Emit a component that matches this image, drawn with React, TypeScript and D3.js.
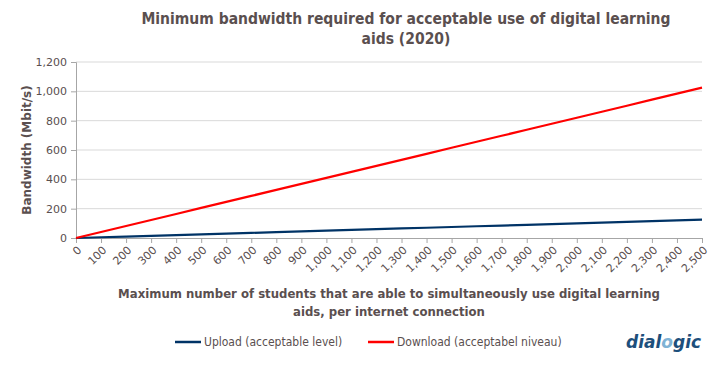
import React, {useEffect, useRef} from "react";
import * as d3 from "d3";

const students = [0, 100, 200, 300, 400, 500, 600, 700, 800, 900, 1000, 1100, 1200, 1300,
    1400, 1500, 1600, 1700, 1800, 1900, 2000, 2100, 2200, 2300, 2400, 2500];
const upload = [0, 5, 10, 15, 20, 25, 30, 35, 40, 45, 50, 55, 60, 65, 70, 75, 80, 85, 90, 95,
    100, 105, 110, 115, 120, 125];
const download = [0, 41, 82, 123, 164, 205, 246, 287, 328, 369, 410, 451, 492, 533, 574, 615,
    656, 697, 738, 779, 820, 861, 902, 943, 984, 1025];
const yTicks = [0, 200, 400, 600, 800, 1000, 1200];
const seriesNames = ["Upload (acceptable level)", "Download (acceptabel niveau)"];
const seriesColors = ["#003366", "#ff0000"];

const textColor = "#5a4f4f";
const font = "Verdana, 'DejaVu Sans', sans-serif";
const titleFont = "'DejaVu Sans Condensed', 'DejaVu Sans', sans-serif";

const App = () => {
    const svgRef = useRef<SVGSVGElement>(null);

    useEffect(() => {
        const svg = d3.select(svgRef.current);
        svg.selectAll("*").remove();

        const left = 76, right = 702, top = 62, bottom = 238;

        const x = d3.scalePoint<number>().domain(students).range([left, right]);
        const y = d3.scaleLinear().domain([0, 1200]).range([bottom, top]);

        // gridlines
        svg.append("g").selectAll("line").data(yTicks.slice(1)).enter().append("line")
            .attr("x1", left).attr("x2", right)
            .attr("y1", d => y(d)).attr("y2", d => y(d))
            .attr("stroke", "#d9d9d9").attr("stroke-width", 1);

        // y axis
        const yAxis = svg.append("g")
            .attr("transform", `translate(${left},0)`)
            .call(d3.axisLeft(y).tickValues(yTicks).tickSize(5).tickPadding(4)
                .tickFormat(d3.format(",")));
        yAxis.select(".domain").attr("stroke", "#a6a6a6");
        yAxis.selectAll(".tick line").attr("stroke", "#a6a6a6");
        yAxis.selectAll("text").attr("fill", textColor)
            .style("font-family", font).style("font-size", "11px");

        // x axis
        const xAxis = svg.append("g")
            .attr("transform", `translate(0,${bottom})`)
            .call(d3.axisBottom(x).tickSize(5).tickSizeOuter(0).tickFormat(d3.format(",")));
        xAxis.select(".domain").attr("stroke", "#a6a6a6");
        xAxis.selectAll(".tick line").attr("stroke", "#a6a6a6");
        xAxis.selectAll("text")
            .attr("fill", textColor)
            .style("font-family", font).style("font-size", "11px")
            .attr("text-anchor", "end")
            .attr("dy", "0.35em")
            .attr("transform", "translate(3,10) rotate(-45)")
            .attr("y", 0).attr("x", 0);

        // lines
        const line = d3.line<number>()
            .x((d, i) => x(students[i]) as number)
            .y(d => y(d));
        [upload, download].forEach((vals, i) => {
            svg.append("path").datum(vals)
                .attr("d", line)
                .attr("fill", "none")
                .attr("stroke", seriesColors[i])
                .attr("stroke-width", 2.2);
        });

        // title
        const title = svg.append("text")
            .attr("text-anchor", "middle")
            .attr("fill", textColor)
            .style("font-family", titleFont).style("font-size", "15.5px").style("font-weight", "bold");
        title.append("tspan").attr("x", 406).attr("y", 24)
            .text("Minimum  bandwidth  required  for acceptable  use of digital  learning");
        title.append("tspan").attr("x", 406).attr("y", 44).text("aids  (2020)");

        // y label
        svg.append("text")
            .attr("transform", `translate(31,${(top + bottom) / 2}) rotate(-90)`)
            .attr("text-anchor", "middle")
            .attr("fill", textColor)
            .style("font-family", font).style("font-size", "12px").style("font-weight", "bold")
            .text("Bandwidth (Mbit/s)");

        // x label
        const xl = svg.append("text")
            .attr("text-anchor", "middle")
            .attr("fill", textColor)
            .style("font-family", titleFont).style("font-size", "13px").style("font-weight", "bold");
        xl.append("tspan").attr("x", 389).attr("y", 298)
            .text("Maximum  number  of students  that  are able to simultaneously  use digital  learning");
        xl.append("tspan").attr("x", 389).attr("y", 316).text("aids, per internet  connection");

        // legend
        const legendX = [175, 368];
        seriesNames.forEach((name, i) => {
            const g = svg.append("g").attr("transform", `translate(${legendX[i]},342)`);
            g.append("line").attr("x1", 0).attr("x2", 26).attr("y1", 0).attr("y2", 0)
                .attr("stroke", seriesColors[i]).attr("stroke-width", 2.5);
            g.append("text").attr("x", 29).attr("y", 4)
                .attr("fill", textColor)
                .style("font-family", titleFont).style("font-size", "12px")
                .text(name);
        });

        // logo
        const logo = svg.append("text").attr("x", 626).attr("y", 348)
            .style("font-family", "'DejaVu Sans', sans-serif").style("font-size", "17px")
            .style("font-weight", "bold").style("font-style", "italic")
            .attr("fill", "#1d4f7c");
        logo.append("tspan").text("dial");
        logo.append("tspan").attr("fill", "#7fb3d5").text("o");
        logo.append("tspan").text("gic");
    }, []);

    return (
        <svg ref={svgRef} width={727} height={374}
             style={{position: "absolute", left: 0, top: 0, background: "#fff"}}/>
    );
};

export default App;
